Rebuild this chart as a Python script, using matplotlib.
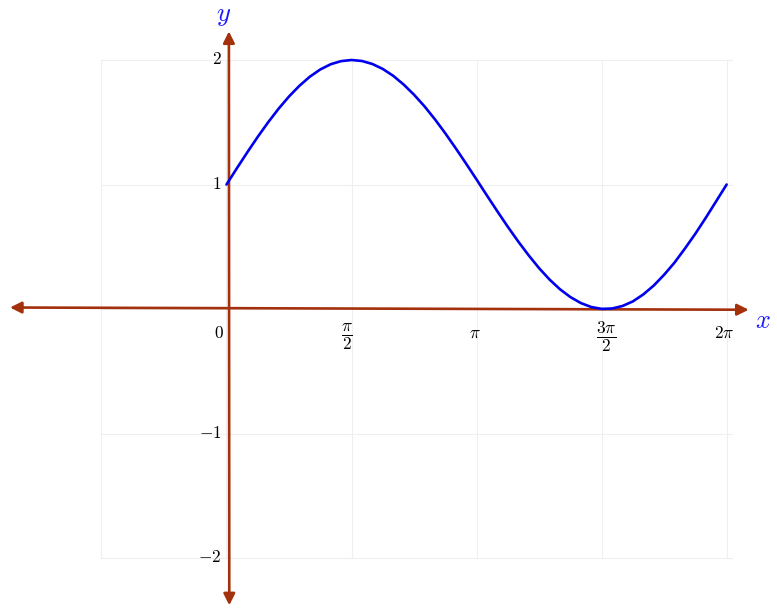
import numpy as np
import matplotlib
matplotlib.use("Agg")
import matplotlib.pyplot as plt

plt.rcParams['mathtext.fontset'] = 'cm'
plt.rcParams['font.family'] = ['DejaVu Serif']

# curve samples, x in steps of pi/24
x_steps = list(range(49))
y_vals = [1.000, 1.131, 1.259, 1.383, 1.500, 1.609, 1.707, 1.793, 1.866,
          1.924, 1.966, 1.991, 2.000,
          1.992, 1.968, 1.928, 1.873, 1.803, 1.721, 1.628, 1.524, 1.411,
          1.291, 1.167, 1.040,
          0.911, 0.784, 0.660, 0.542, 0.431, 0.328, 0.237, 0.159, 0.096,
          0.048, 0.016, 0.001,
          0.004, 0.024, 0.061, 0.117, 0.188, 0.275, 0.373, 0.486, 0.605,
          0.733, 0.866, 1.000]

x_ticks = [0, np.pi / 2, np.pi, 3 * np.pi / 2, 2 * np.pi]
x_tick_labels = [r'$0$', r'$\dfrac{\pi}{2}$', r'$\pi$', r'$\dfrac{3\pi}{2}$', r'$2\pi$']
y_ticks = [-2, -1, 1, 2]
y_tick_labels = [r'$-2$', r'$-1$', r'$1$', r'$2$']
x_grid = [-np.pi / 2, 0, np.pi / 2, np.pi, 3 * np.pi / 2, 2 * np.pi]
y_grid = [-2, -1, 0, 1, 2]

W, H = 777, 613
fig = plt.figure(figsize=(W / 100, H / 100), dpi=100)
ax = fig.add_axes([0, 0, 1, 1])

# pixel mapping: px = X0 + SX * x ; py = Y0 - SY * y
X0, SX = 226.5, 79.6
Y0, SY = 309.0, 124.5
ax.set_xlim(-X0 / SX, (W - X0) / SX)
ax.set_ylim((Y0 - H) / SY, Y0 / SY)
ax.axis('off')

grid_c = '#efefef'
for gx in x_grid:
    ax.plot([gx, gx], [-2, 2], color=grid_c, lw=0.8, zorder=1)
for gy in y_grid:
    ax.plot([-np.pi / 2, 6.35], [gy, gy], color=grid_c, lw=0.8, zorder=1)

axis_c = '#a3310c'
ax.annotate('', xy=(6.56, -0.006), xytext=(-2.72, 0.012),
            arrowprops=dict(arrowstyle='<|-|>', color=axis_c, lw=1.9,
                            mutation_scale=17, shrinkA=0, shrinkB=0), zorder=3)
ax.annotate('', xy=(0.03, 2.23), xytext=(0.035, -2.38),
            arrowprops=dict(arrowstyle='<|-|>', color=axis_c, lw=1.9,
                            mutation_scale=17, shrinkA=0, shrinkB=0), zorder=3)

xs = [k * np.pi / 24 for k in x_steps]
ax.plot(xs, y_vals, color='#0000ee', lw=1.9, zorder=4,
        solid_capstyle='round', solid_joinstyle='round')

x_off = [(-8, -24), (-5, -28), (-2, -24), (5, -28), (-2, -24)]
for xv, lab, (dx, dy) in zip(x_ticks, x_tick_labels, x_off):
    ax.annotate(lab, (xv, 0), xytext=(dx, dy), textcoords='offset pixels',
                ha='center', va='center', fontsize=12.5, color='black')
for yv, lab in zip(y_ticks, y_tick_labels):
    ax.annotate(lab, (0, yv), xytext=(-5, 0), textcoords='offset pixels',
                ha='right', va='center', fontsize=12.5, color='black')

ax.annotate(r'$x$', (6.56, 0), xytext=(14, -12), textcoords='offset pixels',
            ha='center', va='center', fontsize=19, color='#1a1aff')
ax.annotate(r'$y$', (0, 2.23), xytext=(-3, 16), textcoords='offset pixels',
            ha='center', va='center', fontsize=19, color='#1a1aff')

fig.savefig('out.png', dpi=100)
